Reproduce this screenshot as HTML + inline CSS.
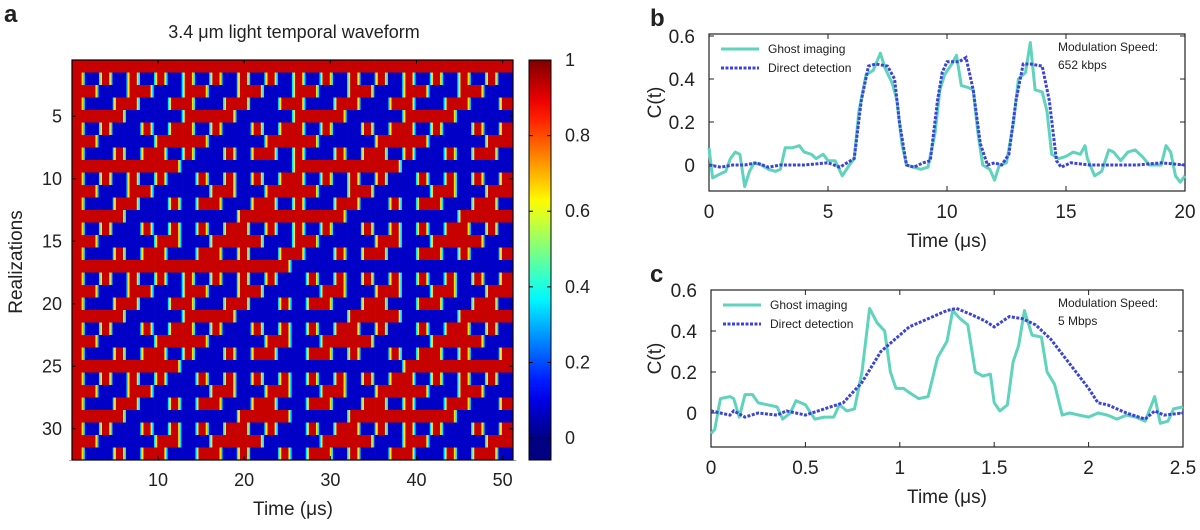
<!DOCTYPE html>
<html><head><meta charset="utf-8"><style>
body{margin:0;background:#fff;}
svg text{font-family:"Liberation Sans",sans-serif;fill:#222;}
</style></head><body>
<svg id="fig" width="1200" height="525" viewBox="0 0 1200 525" xmlns="http://www.w3.org/2000/svg">
<g id="hm"></g>
<g id="pb"></g>
<g id="pc"></g>
</svg>
<script>
// ---- Panel a data: 32 realizations x 32 bits ----
const heatRows = [
"11111111111111111111111111111111","10101010101010101010101010101010",
"11001100110011001100110011001100","10011001100110011001100110011001",
"11110000111100001111000011110000","10100101101001011010010110100101",
"11000011110000111100001111000011","10010110100101101001011010010110",
"11111111000000001111111100000000","10101010010101011010101001010101",
"11001100001100111100110000110011","10011001011001101001100101100110",
"11110000000011111111000000001111","10100101010110101010010101011010",
"11000011001111001100001100111100","10010110011010011001011001101001",
"11111111111111110000000000000000","10101010101010100101010101010101",
"11001100110011000011001100110011","10011001100110010110011001100110",
"11110000111100000000111100001111","10100101101001010101101001011010",
"11000011110000110011110000111100","10010110100101100110100101101001",
"11111111000000000000000011111111","10101010010101010101010110101010",
"11001100001100110011001111001100","10011001011001100110011010011001",
"11110000000011110000111111110000","10100101010110100101101010100101",
"11000011001111000011110011000011","10010110011010010110100110010110"];
const hmXTicks = [10,20,30,40,50];
const hmYTicks = [5,10,15,20,25,30];
const cbTicks = [0,0.2,0.4,0.6,0.8,1];
const hiVal = 0.93, loVal = 0.07;

// ---- Panel b data ----
const bGhostT = [0,0.15,0.5,0.7,0.9,1.1,1.3,1.5,1.7,1.9,2.2,2.5,2.8,3.0,3.2,3.5,3.8,4.0,4.3,4.5,4.8,5.0,5.3,5.6,5.9,6.1,6.3,6.6,6.9,7.2,7.4,7.7,7.9,8.1,8.3,8.6,8.9,9.2,9.5,9.7,9.9,10.2,10.4,10.6,10.9,11.1,11.3,11.5,11.8,12.0,12.2,12.5,12.8,13.0,13.3,13.5,13.7,14.0,14.2,14.4,14.7,15.0,15.3,15.6,15.8,15.9,16.2,16.5,16.8,17.0,17.3,17.6,17.9,18.2,18.5,19.0,19.2,19.4,19.6,19.8,20.0];
const bGhostV = [0.08,-0.06,-0.04,-0.03,0.03,0.06,0.05,-0.1,-0.03,0.01,0.0,-0.02,-0.03,-0.02,0.08,0.08,0.09,0.06,0.05,0.03,0.05,0.02,0.02,-0.05,0.0,0.03,0.25,0.42,0.44,0.52,0.45,0.38,0.3,0.1,0.0,-0.01,-0.02,-0.01,0.15,0.35,0.42,0.47,0.51,0.37,0.36,0.35,0.15,0.0,-0.02,-0.07,0.0,0.01,0.2,0.4,0.43,0.57,0.35,0.34,0.25,0.05,0.03,0.04,0.06,0.05,0.09,0.03,-0.05,-0.03,0.07,0.06,0.02,0.06,0.07,0.04,0.0,0.0,0.09,0.06,-0.05,-0.08,-0.05];
const bDirT = [0,0.5,1,1.5,2,2.5,3,4,5,5.5,5.8,6.1,6.4,6.7,7.0,7.5,7.8,8.0,8.3,8.6,9.0,9.3,9.6,9.8,10.0,10.5,10.8,11.1,11.4,11.7,12.0,12.3,12.6,12.9,13.2,13.5,14.0,14.3,14.6,14.8,15.2,16,17,18,19,20];
const bDirV = [0,-0.01,0,0,0.01,-0.01,0,0,0.01,-0.01,0.01,0.03,0.3,0.46,0.47,0.46,0.4,0.2,0.0,-0.01,0.01,0.02,0.3,0.43,0.48,0.48,0.5,0.35,0.1,0.0,0.01,0.0,0.05,0.3,0.47,0.47,0.46,0.3,0.02,-0.01,0.01,0,0,0,0.01,0];
const bXTicks = [0,5,10,15,20];
const bYTicks = [0,0.2,0.4,0.6];

// ---- Panel c data ----
const cGhostT = [0,0.02,0.05,0.1,0.12,0.15,0.18,0.22,0.25,0.3,0.35,0.38,0.42,0.45,0.5,0.55,0.6,0.65,0.68,0.72,0.76,0.8,0.84,0.88,0.92,0.95,0.98,1.02,1.05,1.1,1.15,1.2,1.25,1.28,1.32,1.36,1.4,1.44,1.48,1.5,1.53,1.57,1.6,1.63,1.66,1.7,1.75,1.78,1.82,1.86,1.9,1.95,2.0,2.05,2.1,2.15,2.2,2.25,2.3,2.35,2.38,2.42,2.45,2.5];
const cGhostV = [-0.1,-0.08,0.07,0.08,0.07,-0.02,0.09,0.09,0.05,0.04,0.03,-0.03,0.0,0.06,0.04,-0.03,-0.02,-0.02,0.04,0.01,0.02,0.2,0.51,0.44,0.4,0.2,0.12,0.12,0.1,0.07,0.08,0.27,0.35,0.5,0.46,0.43,0.2,0.18,0.19,0.05,0.01,0.04,0.25,0.33,0.5,0.38,0.37,0.2,0.14,-0.01,0.0,-0.01,-0.02,0.0,-0.01,-0.03,-0.01,-0.02,-0.04,0.08,-0.05,-0.04,0.02,0.03];
const cDirT = [0,0.1,0.12,0.18,0.25,0.35,0.4,0.5,0.6,0.7,0.8,0.9,1.0,1.05,1.15,1.25,1.3,1.38,1.45,1.5,1.58,1.65,1.72,1.8,1.9,2.0,2.05,2.1,2.2,2.3,2.35,2.4,2.5];
const cDirV = [0.01,-0.01,0.01,-0.02,0.0,-0.01,0.01,-0.01,0.02,0.05,0.15,0.3,0.38,0.42,0.46,0.5,0.51,0.48,0.45,0.42,0.47,0.46,0.43,0.36,0.24,0.12,0.05,0.04,0.0,-0.03,0.01,-0.01,0.0];
const cXTicks = [0,0.5,1,1.5,2,2.5];
const cYTicks = [0,0.2,0.4,0.6];

const NS="http://www.w3.org/2000/svg";
function mk(tag, parent, attrs, txt){const e=document.createElementNS(NS,tag);for(const k in attrs)e.setAttribute(k,attrs[k]);if(txt!==undefined)e.textContent=txt;parent.appendChild(e);return e;}
function jet(v){const c=x=>Math.max(0,Math.min(1,x));const r=c(1.5-Math.abs(4*v-3)),g=c(1.5-Math.abs(4*v-2)),b=c(1.5-Math.abs(4*v-1));return `rgb(${Math.round(r*255)},${Math.round(g*255)},${Math.round(b*255)})`;}

// ===== Panel a =====
const hm=document.getElementById('hm');
const HX0=72,HX1=513,HY0=60,HY1=460,TMIN=0.015,TMAX=51.2;
const hx=t=>HX0+(t-TMIN)/(TMAX-TMIN)*(HX1-HX0);
const nBits=heatRows[0].length, nRows=heatRows.length;
const rowH=(HY1-HY0)/nRows;
const bitT=TMAX/nBits;
const cells=mk('g',hm,{});


heatRows.forEach((row,r)=>{
  const y=HY0+r*rowH, h=rowH+0.4;
  for(let j=0;j<nBits;j++){
    const on=row[j]==='1';
    const v=on?hiVal:loVal;
    let x0=hx(j*bitT), x1=hx((j+1)*bitT);
    if(on){
      if(j>0 && row[j-1]==='0') x0+=2.5;
      if(j<nBits-1 && row[j+1]==='0') x1-=4;
    } else {
      if(j>0 && row[j-1]==='1') x0-=1;
      if(j<nBits-1 && row[j+1]==='1') x1-=0.5;
    }
    if(j===0) x0=HX0-3;
    if(j===nBits-1) x1=HX1+3;
    const rc=mk('rect',cells,{x:x0,y:y,width:Math.max(0,x1-x0)+0.3,height:h,fill:jet(v)});
    
    
  }
  for(let j=1;j<nBits;j++){
    if(row[j]!==row[j-1]){
      const b=hx(j*bitT);
      let e1,e2;
      if(row[j]==='1'){
        e1=mk('rect',cells,{x:b-0.5,y:y,width:1.5,height:h,fill:jet(0.35)});
        e2=mk('rect',cells,{x:b+1,y:y,width:1.5,height:h,fill:jet(0.65)});
      } else {
        e1=mk('rect',cells,{x:b-4,y:y,width:1.5,height:h,fill:jet(0.65)});
        e2=mk('rect',cells,{x:b-2.5,y:y,width:1.5,height:h,fill:jet(0.35)});
      }
      
      
      
      
    }
  }
});
mk('rect',hm,{x:0,y:HY0,width:HX0,height:HY1-HY0,fill:'#fff'});
mk('rect',hm,{x:HX1,y:HY0,width:14,height:HY1-HY0,fill:'#fff'});
const hframe=mk('rect',hm,{x:HX0,y:HY0,width:HX1-HX0,height:HY1-HY0,fill:'none',stroke:'#000','stroke-width':1.2});


hmXTicks.forEach(t=>{
  const x=hx(t);
  mk('line',hm,{x1:x,x2:x,y1:HY1,y2:HY1-4,stroke:'#000'});
  mk('line',hm,{x1:x,x2:x,y1:HY0,y2:HY0+4,stroke:'#000'});
  const l=mk('text',hm,{x:x,y:486,'font-size':18,'text-anchor':'middle'},String(t));
  
  
});
hmYTicks.forEach(k=>{
  const y=HY0+(k-0.5)*rowH;
  mk('line',hm,{x1:HX0,x2:HX0+4,y1:y,y2:y,stroke:'#000'});
  mk('line',hm,{x1:HX1,x2:HX1-4,y1:y,y2:y,stroke:'#000'});
  const l=mk('text',hm,{x:62,y:y+6,'font-size':18,'text-anchor':'end'},String(k));
  
  
});
const CBX=529,CBW=22,CV0=-0.058,CV1=1;
const cby=v=>HY1-(v-CV0)/(CV1-CV0)*(HY1-HY0);
const defs=mk('defs',hm,{});
const gr=mk('linearGradient',defs,{id:'jetg',x1:0,y1:1,x2:0,y2:0});
for(let i=0;i<=20;i++){const f=i/20;const vv=CV0+f*(CV1-CV0);mk('stop',gr,{offset:f,'stop-color':jet(Math.max(0,vv))});}
const cb=mk('rect',hm,{x:CBX,y:HY0,width:CBW,height:HY1-HY0,fill:'url(#jetg)',stroke:'#000','stroke-width':1});


cbTicks.forEach(v=>{
  const y=cby(v);
  mk('line',hm,{x1:CBX,x2:CBX+4,y1:y,y2:y,stroke:'#000'});
  mk('line',hm,{x1:CBX+CBW,x2:CBX+CBW-4,y1:y,y2:y,stroke:'#000'});
  const l=mk('text',hm,{x:565,y:y+6,'font-size':18},String(v));
  
  
});
let t;
t=mk('text',hm,{x:4,y:22,'font-size':24,'font-weight':'bold'},'a');

t=mk('text',hm,{x:294,y:38,'font-size':18,'text-anchor':'middle'},'3.4 \u03bcm light temporal waveform');

t=mk('text',hm,{x:293,y:515,'font-size':19,'text-anchor':'middle'},'Time (\u03bcs)');

t=mk('text',hm,{x:0,y:0,'font-size':19,'text-anchor':'middle',transform:'translate(22,262) rotate(-90)'},'Realizations');


// ===== Line panels =====
function linePanel(g,o){
  const sx=v=>o.x0+(v-o.xmin)/(o.xmax-o.xmin)*(o.x1-o.x0);
  const sy=v=>o.yz-(v)*o.ypu;
  const fr=mk('rect',g,{x:o.x0,y:o.top,width:o.x1-o.x0,height:o.bot-o.top,fill:'none',stroke:'#222','stroke-width':1.2});
  
  o.xt.forEach(v=>{const x=sx(v);
    mk('line',g,{x1:x,x2:x,y1:o.bot,y2:o.bot-5,stroke:'#222'});mk('line',g,{x1:x,x2:x,y1:o.top,y2:o.top+5,stroke:'#222'});
    const l=mk('text',g,{x:x,y:o.bot+27,'font-size':19,'text-anchor':'middle'},String(v));
    });
  o.yt.forEach(v=>{const y=sy(v);
    mk('line',g,{x1:o.x0,x2:o.x0+5,y1:y,y2:y,stroke:'#222'});mk('line',g,{x1:o.x1,x2:o.x1-5,y1:y,y2:y,stroke:'#222'});
    const l=mk('text',g,{x:o.x0-14,y:y+7,'font-size':19,'text-anchor':'end'},String(v));
    });
  const pts=(T,V)=>T.map((tt,i)=>sx(tt).toFixed(1)+','+sy(V[i]).toFixed(1)).join(' ');
  const g1=mk('polyline',g,{points:pts(o.gT,o.gV),fill:'none',stroke:'#5fd3bc','stroke-width':3,'stroke-linejoin':'round'});
  
  const d1=mk('polyline',g,{points:pts(o.dT,o.dV),fill:'none',stroke:'#3a44d8','stroke-width':3,'stroke-dasharray':'3,1.5'});
  
  const lg=mk('g',g,{});
  const ly=o.top+15;
  mk('line',lg,{x1:o.x0+12,x2:o.x0+50,y1:ly,y2:ly,stroke:'#5fd3bc','stroke-width':3});
  let e=mk('text',lg,{x:o.x0+59,y:ly+4,'font-size':12},'Ghost imaging');
  mk('line',lg,{x1:o.x0+12,x2:o.x0+50,y1:ly+19,y2:ly+19,stroke:'#3a44d8','stroke-width':3,'stroke-dasharray':'3,1.5'});
  e=mk('text',lg,{x:o.x0+59,y:ly+23,'font-size':12},'Direct detection');
  e=mk('text',g,{x:1058,y:o.top+17,'font-size':12},'Modulation Speed:');
  e=mk('text',g,{x:1058,y:o.top+35,'font-size':12},o.speed);
  e=mk('text',g,{x:(o.x0+o.x1)/2,y:o.bot+56,'font-size':19,'text-anchor':'middle'},'Time (\u03bcs)');
  e=mk('text',g,{x:0,y:0,'font-size':19,'text-anchor':'middle',transform:`translate(661,${(o.top+o.bot)/2-10}) rotate(-90)`},'C(t)');
  e=mk('text',g,{x:650,y:o.top-8,'font-size':24,'font-weight':'bold'},o.label);
}
linePanel(document.getElementById('pb'),{x0:709,x1:1185,xmin:0,xmax:20,top:34,bot:191,yz:165,ypu:215,xt:bXTicks,yt:bYTicks,gT:bGhostT,gV:bGhostV,dT:bDirT,dV:bDirV,speed:'652 kbps',label:'b'});
linePanel(document.getElementById('pc'),{x0:711,x1:1183,xmin:0,xmax:2.5,top:290,bot:447,yz:413,ypu:205,xt:cXTicks,yt:cYTicks,gT:cGhostT,gV:cGhostV,dT:cDirT,dV:cDirV,speed:'5 Mbps',label:'c'});
</script>
</body></html>
